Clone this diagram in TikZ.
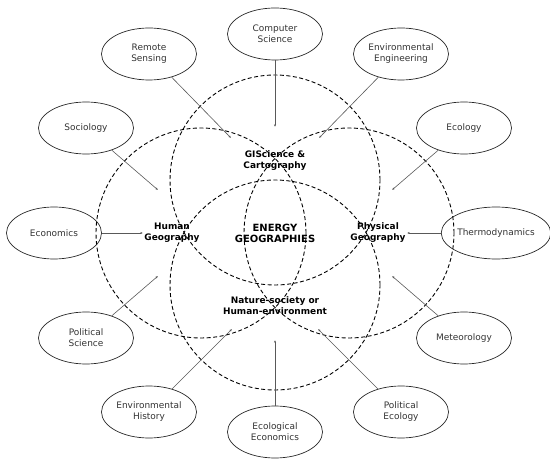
\documentclass[tikz,border=0pt]{standalone}
\usepackage{fontspec}
\setmainfont{DejaVu Sans}
\usetikzlibrary{shapes.geometric,arrows.meta}
\tikzset{
  field/.style={ellipse, draw=black!85, line width=0.7pt, minimum width=95bp,
    minimum height=52bp, inner sep=0pt, align=center,
    font=\fontsize{9}{11}\selectfont, text=black!80},
  core/.style={align=center, font=\bfseries\fontsize{9}{11}\selectfont},
  ring/.style={line width=0.9pt, dash pattern=on 4bp off 2.5bp},
  link/.style={-{Latex[length=2.5pt,width=2.2pt]}, draw=black!65, line width=0.6pt},
}
\begin{document}
\begin{tikzpicture}[x=1bp,y=-1bp]
\useasboundingbox (0,0) rectangle (550,466);
% the four subfields
\draw[ring] (275,180) circle [radius=105bp];
\draw[ring] (275,285) circle [radius=105bp];
\draw[ring] (201,233) circle [radius=105bp];
\draw[ring] (349,233) circle [radius=105bp];
\node[core] (gis) at (275,161) {GIScience \&\\Cartography};
\node[core] (hum) at (172,233) {Human\\Geography};
\node[core, font=\bfseries\fontsize{10}{11}\selectfont] (eg) at (275,233) {ENERGY\\GEOGRAPHIES};
\node[core] (phy) at (378,233) {Physical\\Geography};
\node[core] (nat) at (275,306) {Nature-society or\\Human-environment};
% neighbouring disciplines
\node[field] (cs) at (275,34) {Computer\\Science};
\node[field] (rs) at (149,54) {Remote\\Sensing};
\node[field] (ee) at (401,54) {Environmental\\Engineering};
\node[field] (soc) at (86,128) {Sociology};
\node[field] (eco) at (464,128) {Ecology};
\node[field] (econ) at (54,233) {Economics};
\node[field] (thd) at (496,233) {Thermodynamics};
\node[field] (ps) at (86,338) {Political\\Science};
\node[field] (met) at (464,338) {Meteorology};
\node[field] (eh) at (149,412) {Environmental\\History};
\node[field] (pe) at (401,412) {Political\\Ecology};
\node[field] (ece) at (275,432) {Ecological\\Economics};
% where the links end
\coordinate (csend) at (275,127);
\coordinate (rsend) at (231,138);
\coordinate (eeend) at (319,138);
\coordinate (socend) at (158,190);
\coordinate (ecoend) at (392,190);
\coordinate (econend) at (143,233);
\coordinate (thdend) at (407,233);
\coordinate (psend) at (158,276);
\coordinate (metend) at (392,276);
\coordinate (ehend) at (232,329);
\coordinate (peend) at (318,329);
\coordinate (eceend) at (275,340);
\draw[link] (cs) -- (csend);
\draw[link] (rs) -- (rsend);
\draw[link] (ee) -- (eeend);
\draw[link] (soc) -- (socend);
\draw[link] (eco) -- (ecoend);
\draw[link] (econ) -- (econend);
\draw[link] (thd) -- (thdend);
\draw[link] (ps) -- (psend);
\draw[link] (met) -- (metend);
\draw[link] (eh) -- (ehend);
\draw[link] (pe) -- (peend);
\draw[link] (ece) -- (eceend);
\end{tikzpicture}
\end{document}
